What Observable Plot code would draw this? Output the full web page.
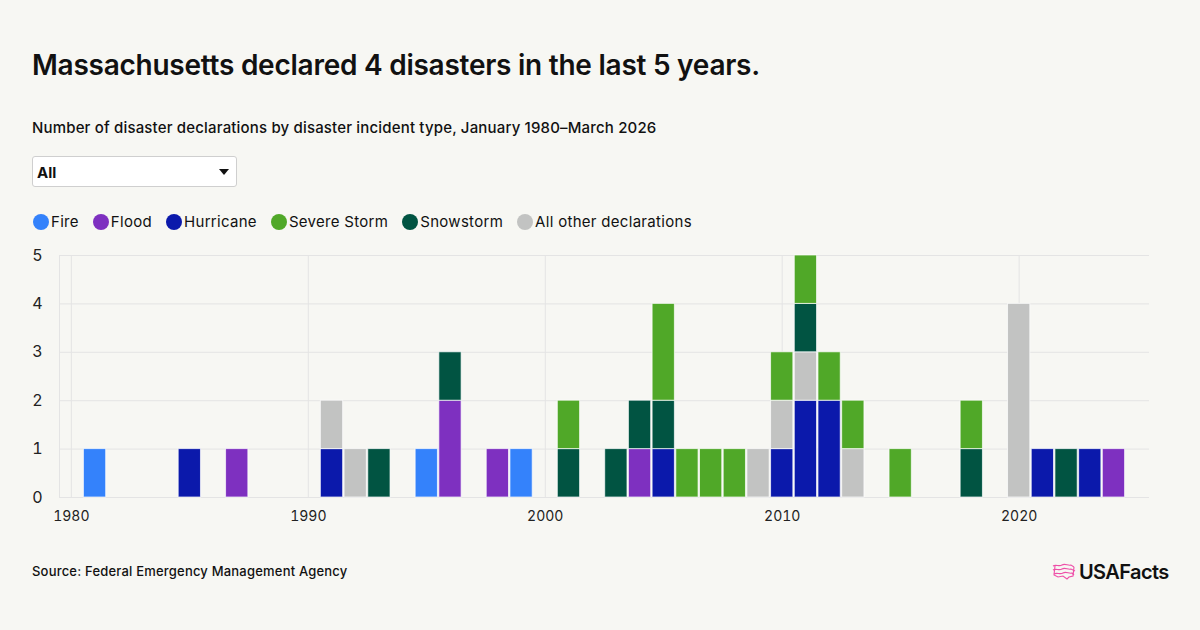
<!DOCTYPE html>
<html>
<head>
<meta charset="utf-8">
<script src="https://cdn.jsdelivr.net/npm/d3@7"></script>
<script src="https://cdn.jsdelivr.net/npm/@observablehq/plot@0.6"></script>
<style>
  html, body { margin: 0; padding: 0; background: #f7f7f3; }
  #root { position: relative; width: 1200px; height: 630px; overflow: hidden; font-family: Inter, "Noto Sans", sans-serif; color: #111; }
  #title { position: absolute; left: 32px; top: 48px; font-size: 28px; font-weight: 600; letter-spacing: -0.25px; white-space: nowrap; }
  #subtitle { position: absolute; left: 32px; top: 118px; font-size: 15px; font-weight: 500; letter-spacing: 0.17px; white-space: nowrap; }
  #select { position: absolute; left: 32px; top: 156px; width: 205px; height: 31px; background: #fff; border: 1px solid #cfcfcf; border-radius: 3px; box-sizing: border-box; }
  #select span { position: absolute; left: 4px; top: 6px; font-size: 15px; font-weight: 700; }
  #select svg { position: absolute; right: 7px; top: 12px; }
  #legend { position: absolute; left: 33px; top: 212px; display: flex; gap: 0; font-size: 15px; letter-spacing: 0.3px; white-space: nowrap; }
  .item { display: flex; align-items: center; margin-right: 14px; }
  .sw { width: 16px; height: 16px; border-radius: 50%; margin-right: 2px; }
  #chart { position: absolute; left: 0; top: 240px; }
  #source { position: absolute; left: 32px; top: 563px; font-size: 13px; font-weight: 500; letter-spacing: 0.2px; }
  #logo { position: absolute; left: 1052px; top: 560px; display: flex; align-items: center; }
  #logo span { font-size: 20px; font-weight: 600; letter-spacing: -0.6px; margin-left: 3px; }
</style>
</head>
<body>
<div id="root">
  <div id="title">Massachusetts declared 4 disasters in the last 5 years.</div>
  <div id="subtitle">Number of disaster declarations by disaster incident type, January 1980–March 2026</div>
  <div id="select"><span>All</span><svg width="10" height="6"><path d="M0,0L10,0L5,6Z" fill="#111"/></svg></div>
  <div id="legend"></div>
  <div id="chart"></div>
  <div id="source">Source: Federal Emergency Management Agency</div>
  <div id="logo">
    <svg width="24" height="18" viewBox="0 0 24 18" fill="none" stroke="#ee4fa8" stroke-width="1.1">
      <path d="M1,3 C4,1 7,4 10,2 C13,0 16,3 19,2 L22,4"/>
      <path d="M1,7 C4,5 7,8 10,6 C13,4 16,7 19,6 L23,8"/>
      <path d="M2,11 C5,9 8,12 11,10 C14,8 17,11 20,10 L22,12"/>
      <path d="M3,3 L2,12 L6,14 L11,13 L15,16 L17,14 L21,13 L22,4"/>
    </svg>
    <span>USAFacts</span>
  </div>
</div>
<script>
// Legend / colour categories
const legendTypes = ["Fire", "Flood", "Hurricane", "Severe Storm", "Snowstorm", "All other declarations"];
const legendColors = ["#3482fb", "#7e30c0", "#0b19ab", "#50a828", "#015442", "#c2c3c2"];
// Stacking order, bottom to top
const stackOrder = ["Fire", "Flood", "Hurricane", "All other declarations", "Snowstorm", "Severe Storm"];

// One row per stacked segment
const years = [1981, 1985, 1987, 1991, 1991, 1992, 1993, 1995, 1996, 1996, 1998, 1999,
  2001, 2001, 2003, 2004, 2004, 2005, 2005, 2005, 2006, 2007, 2008, 2009,
  2010, 2010, 2010, 2011, 2011, 2011, 2011, 2012, 2012, 2013, 2013, 2015,
  2018, 2018, 2020, 2021, 2022, 2023, 2024];
const types = ["Fire", "Hurricane", "Flood", "Hurricane", "All other declarations", "All other declarations", "Snowstorm", "Fire", "Flood", "Snowstorm", "Flood", "Fire",
  "Snowstorm", "Severe Storm", "Snowstorm", "Flood", "Snowstorm", "Hurricane", "Snowstorm", "Severe Storm", "Severe Storm", "Severe Storm", "Severe Storm", "All other declarations",
  "Hurricane", "All other declarations", "Severe Storm", "Hurricane", "All other declarations", "Snowstorm", "Severe Storm", "Hurricane", "Severe Storm", "All other declarations", "Severe Storm", "Severe Storm",
  "Snowstorm", "Severe Storm", "All other declarations", "Hurricane", "Snowstorm", "Hurricane", "Flood"];
const counts = [1, 1, 1, 1, 1, 1, 1, 1, 2, 1, 1, 1,
  1, 1, 1, 1, 1, 1, 1, 2, 1, 1, 1, 1,
  1, 1, 1, 2, 1, 1, 1, 2, 1, 1, 1, 1,
  1, 1, 4, 1, 1, 1, 1];

// Axis ticks
const xTicks = [1980, 1990, 2000, 2010, 2020];
const yTicks = [0, 1, 2, 3, 4, 5];
const xDomain = [1979.5, 2025.5];

const data = years.map((y, i) => ({year: y, type: types[i], count: counts[i]}));

// Legend
const legend = document.getElementById("legend");
legendTypes.forEach((t, i) => {
  const it = document.createElement("div");
  it.className = "item";
  it.innerHTML = `<div class="sw" style="background:${legendColors[i]}"></div><span>${t}</span>`;
  legend.appendChild(it);
});

const chart = Plot.plot({
  width: 1200,
  height: 290,
  marginLeft: 59,
  marginRight: 51,
  marginTop: 15,
  marginBottom: 33,
  style: {background: "transparent", fontFamily: "Inter, sans-serif", fontSize: "14px", color: "#222"},
  x: {domain: xDomain, ticks: xTicks, tickFormat: d => String(d), tickSize: 0, tickPadding: 14, label: null},
  y: {domain: [0, 5], ticks: yTicks, tickFormat: d => String(d), tickSize: 0, tickPadding: 17, label: null},
  color: {domain: legendTypes, range: legendColors},
  marks: [
    Plot.gridY(yTicks, {stroke: "#e4e4e4", strokeOpacity: 1}),
    Plot.gridX(xTicks, {stroke: "#e4e4e4", strokeOpacity: 1}),
    Plot.frame({anchor: "left", stroke: "#e4e4e4"}),
    Plot.axisY(yTicks, {tickFormat: d => String(d), tickSize: 0, tickPadding: 17, fontSize: 16, label: null}),
    Plot.rectY(data, Plot.stackY({
      x1: d => d.year - 0.47,
      x2: d => d.year + 0.47,
      y: "count",
      fill: "type",
      order: stackOrder,
      stroke: "#ffffff",
      strokeWidth: 1,
      strokeOpacity: 0.7
    }))
  ]
});
document.getElementById("chart").appendChild(chart);
</script>
</body>
</html>
